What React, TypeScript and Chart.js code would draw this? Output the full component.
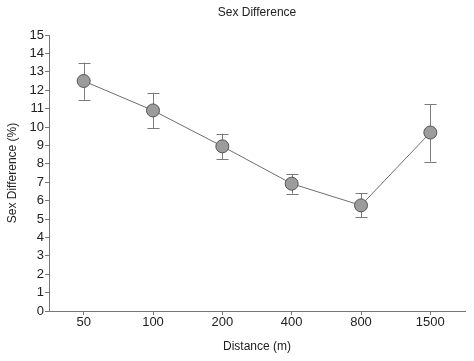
import React, { useEffect, useRef } from 'react';
import { Chart, registerables } from 'chart.js';

Chart.register(...registerables);

const chartTitle = 'Sex Difference';
const xTitle = 'Distance (m)';
const yTitle = 'Sex Difference (%)';
const categories = ['50', '100', '200', '400', '800', '1500'];
const values = [12.5, 10.9, 8.95, 6.92, 5.74, 9.7];
const errLow = [11.48, 9.92, 8.24, 6.38, 5.09, 8.12];
const errHigh = [13.5, 11.86, 9.64, 7.45, 6.39, 11.25];
const yMin = 0;
const yMax = 15;
const yStep = 1;

const FONT = '"Liberation Sans", Arial, sans-serif';

const errorBarPlugin = {
  id: 'errorBars',
  beforeDatasetsDraw(chart: any) {
    const { ctx, scales } = chart;
    const xs = scales.x;
    const ys = scales.y;
    ctx.save();
    ctx.strokeStyle = '#7a7a7a';
    ctx.lineWidth = 1;
    categories.forEach((_, i) => {
      const x = Math.round(xs.getPixelForValue(i)) + 0.5;
      const yl = ys.getPixelForValue(errLow[i]);
      const yh = ys.getPixelForValue(errHigh[i]);
      ctx.beginPath();
      ctx.moveTo(x, yl);
      ctx.lineTo(x, yh);
      ctx.moveTo(x - 6, Math.round(yl) + 0.5);
      ctx.lineTo(x + 6, Math.round(yl) + 0.5);
      ctx.moveTo(x - 6, Math.round(yh) + 0.5);
      ctx.lineTo(x + 6, Math.round(yh) + 0.5);
      ctx.stroke();
    });
    ctx.restore();
  },
};

const titlePlugin = {
  id: 'centeredTitle',
  afterDraw(chart: any) {
    const { ctx, chartArea } = chart;
    ctx.save();
    ctx.font = `12px ${FONT}`;
    ctx.fillStyle = '#222';
    ctx.textAlign = 'center';
    ctx.textBaseline = 'middle';
    ctx.fillText(chartTitle, (chartArea.left + chartArea.right) / 2, 13);
    ctx.restore();
  },
};

export default function App() {
  const ref = useRef<HTMLCanvasElement>(null);

  useEffect(() => {
    document.body.style.margin = '0';
    const chart = new Chart(ref.current!, {
      type: 'line',
      data: {
        labels: categories,
        datasets: [
          {
            data: values,
            borderColor: '#6e6e6e',
            borderWidth: 1,
            backgroundColor: '#9c9c9c',
            pointBackgroundColor: '#9c9c9c',
            pointBorderColor: '#555',
            pointBorderWidth: 1,
            pointRadius: 6.5,
            tension: 0,
            fill: false,
          },
        ],
      },
      options: {
        animation: false,
        responsive: false,
        maintainAspectRatio: false,
        layout: { padding: { top: 35, right: 9, left: 0, bottom: 0 } },
        plugins: {
          legend: { display: false },
          tooltip: { enabled: false },
          title: { display: false },
        },
        scales: {
          x: {
            type: 'category',
            offset: true,
            afterFit(scale: any) {
              scale.height = 50;
            },
            border: { display: true, color: '#777', width: 1 },
            grid: {
              display: true,
              drawOnChartArea: false,
              drawTicks: true,
              tickLength: 4,
              color: '#777',
              offset: false,
            },
            ticks: {
              color: '#222',
              padding: 0,
              autoSkip: false,
              maxRotation: 0,
              font: { family: FONT, size: 13 },
            },
            title: {
              display: true,
              text: xTitle,
              color: '#222',
              font: { family: FONT, size: 12 },
              padding: { top: 4, bottom: 7 },
            },
          },
          y: {
            min: yMin,
            max: yMax,
            afterFit(scale: any) {
              scale.width = 49;
            },
            border: { display: true, color: '#777', width: 1 },
            grid: {
              display: true,
              drawOnChartArea: false,
              drawTicks: true,
              tickLength: 4,
              color: '#777',
            },
            ticks: {
              stepSize: yStep,
              autoSkip: false,
              color: '#222',
              padding: 1,
              font: { family: FONT, size: 13 },
            },
            title: {
              display: true,
              text: yTitle,
              color: '#222',
              font: { family: FONT, size: 12 },
              padding: { top: 5, bottom: 4 },
            },
          },
        },
      },
      plugins: [errorBarPlugin, titlePlugin],
    });
    return () => chart.destroy();
  }, []);

  return (
    <div style={{ width: 474, height: 361 }}>
      <canvas ref={ref} width={474} height={361} style={{ display: 'block' }} />
    </div>
  );
}
